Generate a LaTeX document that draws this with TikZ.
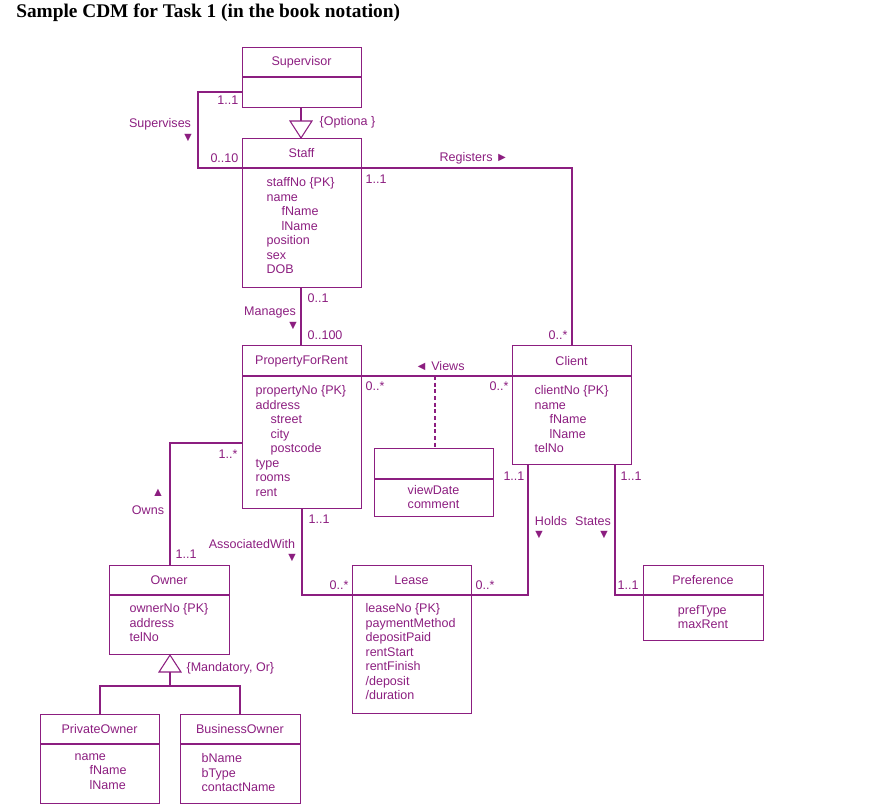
\documentclass[tikz,border=0pt]{standalone}
\usepackage{fontspec}
\setmainfont{Liberation Sans}
\newfontfamily\titlefont{Liberation Serif}
\definecolor{uml}{RGB}{140,30,128}
\newcommand\cls[6]{\node[draw=uml,line width=0.8pt,inner sep=0pt,anchor=north west,minimum width={(#4-#2)*0.75pt},minimum height={(#5-#3)*0.75pt}] (#1) at (#2,#3) {};
\draw[uml,line width=0.8pt] (#1.west |- 0,#6) -- (#1.east |- 0,#6);}
\begin{document}
\begin{tikzpicture}[x=0.75pt,y=-0.75pt,
  lbl/.style={text=uml,font=\fontsize{9.4}{10.9}\selectfont,inner sep=1pt},
  attr/.style={lbl,align=left,anchor=north west},
  ln/.style={draw=uml,line width=0.8pt}]
\useasboundingbox (0,0) rectangle (873,807);
\node[anchor=west,inner sep=0pt,font=\titlefont\bfseries\fontsize{14.5}{16}\selectfont] (title) at (16,13) {Sample CDM for Task 1 (in the book notation)};
% classes
\cls{sup}{242}{47}{361}{107}{77}
\cls{staff}{242}{138}{361}{287}{168}
\cls{pfr}{242}{345}{361}{508}{376}
\cls{client}{512}{345}{631}{464}{376}
\cls{ac}{374}{448}{493}{516}{479}
\cls{lease}{352}{565}{471}{713}{595}
\cls{pref}{643}{565}{763}{640}{595}
\cls{owner}{109}{565}{229}{654}{595}
\cls{priv}{40}{714}{159}{803}{744}
\cls{bus}{180}{714}{300}{803}{744}
% titles
\node[lbl] (tsup) at (301.5,62) {Supervisor};
\node[lbl] (tstaff) at (301.5,153) {Staff};
\node[lbl] (tpfr) at (301.5,361) {PropertyForRent};
\node[lbl] (tclient) at (571.5,361) {Client};
\node[lbl] (tlease) at (411.5,580) {Lease};
\node[lbl] (tpref) at (703,580) {Preference};
\node[lbl] (towner) at (169,580) {Owner};
\node[lbl] (tpriv) at (99.5,729) {PrivateOwner};
\node[lbl] (tbus) at (240,729) {BusinessOwner};
% attributes
\node[attr] (astaff) at (265,176) {staffNo \{PK\}\\name\\\hspace*{1.2em}fName\\\hspace*{1.2em}lName\\position\\sex\\DOB};
\node[attr] (apfr) at (254,384) {propertyNo \{PK\}\\address\\\hspace*{1.2em}street\\\hspace*{1.2em}city\\\hspace*{1.2em}postcode\\type\\rooms\\rent};
\node[attr] (aclient) at (533,384) {clientNo \{PK\}\\name\\\hspace*{1.2em}fName\\\hspace*{1.2em}lName\\telNo};
\node[lbl,align=center] (aac) at (433.5,497) {viewDate\\comment};
\node[attr] (alease) at (364,602) {leaseNo \{PK\}\\paymentMethod\\depositPaid\\rentStart\\rentFinish\\/deposit\\/duration};
\node[lbl,align=left] (apref) at (703,617) {prefType\\maxRent};
\node[attr] (aowner) at (128,602) {ownerNo \{PK\}\\address\\telNo};
\node[attr] (apriv) at (73,752) {name\\\hspace*{1.2em}fName\\\hspace*{1.2em}lName};
\node[attr] (abus) at (200,752) {bName\\bType\\contactName};
% Supervises
\draw[ln] (sup.west |- 0,92) -- (198,92) -- (198,168) -- (staff.west |- 0,168);
\node[lbl,anchor=east] (m1) at (240,100) {1..1};
\node[lbl,anchor=east] (m2) at (240,158) {0..10};
\node[lbl] (lsup) at (160,124) {Supervises};
\node[lbl] (asup) at (188,138) {▼};
% generalization Supervisor-Staff
\coordinate (gt) at (301,121);
\draw[ln] (sup.south -| 301,0) -- (gt);
\draw[ln] (290,121) -- (312,121) -- (staff.north -| 301,0) -- cycle;
\node[lbl,anchor=west] (opt) at (318,122) {\{Optiona \}};
% Registers
\draw[ln] (staff.east |- 0,168) -- (572,168) -- (client.north -| 572,0);
\node[lbl] (lreg) at (474,158) {Registers ►};
\node[lbl,anchor=west] (m3) at (364,179) {1..1};
\node[lbl,anchor=east] (m4) at (569,335) {0..*};
% Manages
\draw[ln] (staff.south -| 301,0) -- (pfr.north -| 301,0);
\node[lbl,anchor=west] (m5) at (306,298) {0..1};
\node[lbl,anchor=west] (m6) at (306,335) {0..100};
\node[lbl] (lman) at (270,312) {Manages};
\node[lbl] (aman) at (293,326) {▼};
% Views
\draw[ln] (pfr.east |- 0,376) -- (client.west |- 0,376);
\draw[ln,dashed,dash pattern=on 3pt off 2pt] (435,376) -- (ac.north -| 435,0);
\node[lbl] (lviews) at (440,366) {◄ Views};
\node[lbl,anchor=west] (m7) at (364,386) {0..*};
\node[lbl,anchor=east] (m8) at (510,386) {0..*};
% Owns
\draw[ln] (pfr.west |- 0,443) -- (170,443) -- (owner.north -| 170,0);
\node[lbl,anchor=east] (m9) at (239,454) {1..*};
\node[lbl] (aown) at (158,493) {▲};
\node[lbl] (lown) at (148,510) {Owns};
\node[lbl,anchor=west] (m10) at (174,554) {1..1};
% AssociatedWith
\draw[ln] (pfr.south -| 302,0) -- (302,595) -- (lease.west |- 0,595);
\node[lbl,anchor=west] (m11) at (307,519) {1..1};
\node[lbl] (lass) at (252,544) {AssociatedWith};
\node[lbl] (aass) at (292,558) {▼};
\node[lbl,anchor=east] (m12) at (350,585) {0..*};
% Holds
\draw[ln] (client.south -| 528,0) -- (528,595) -- (lease.east |- 0,595);
\node[lbl,anchor=east] (m13) at (526,476) {1..1};
\node[lbl,anchor=west] (m14) at (474,585) {0..*};
\node[lbl] (lholds) at (551,521) {Holds};
\node[lbl] (aholds) at (539,535) {▼};
% States
\draw[ln] (client.south -| 615,0) -- (615,595) -- (pref.west |- 0,595);
\node[lbl,anchor=west] (m15) at (619,476) {1..1};
\node[lbl,anchor=west] (m16) at (616,585) {1..1};
\node[lbl] (lstates) at (593,521) {States};
\node[lbl] (astates) at (604,535) {▼};
% generalization Owner
\draw[ln] (159,672) -- (181,672) -- (owner.south -| 170,0) -- cycle;
\draw[ln] (170,672) -- (170,686);
\draw[ln] (priv.north -| 100,0) -- (100,686) -- (240,686) -- (bus.north -| 240,0);
\node[lbl,anchor=west] (mand) at (185,668) {\{Mandatory, Or\}};
\end{tikzpicture}
\end{document}
